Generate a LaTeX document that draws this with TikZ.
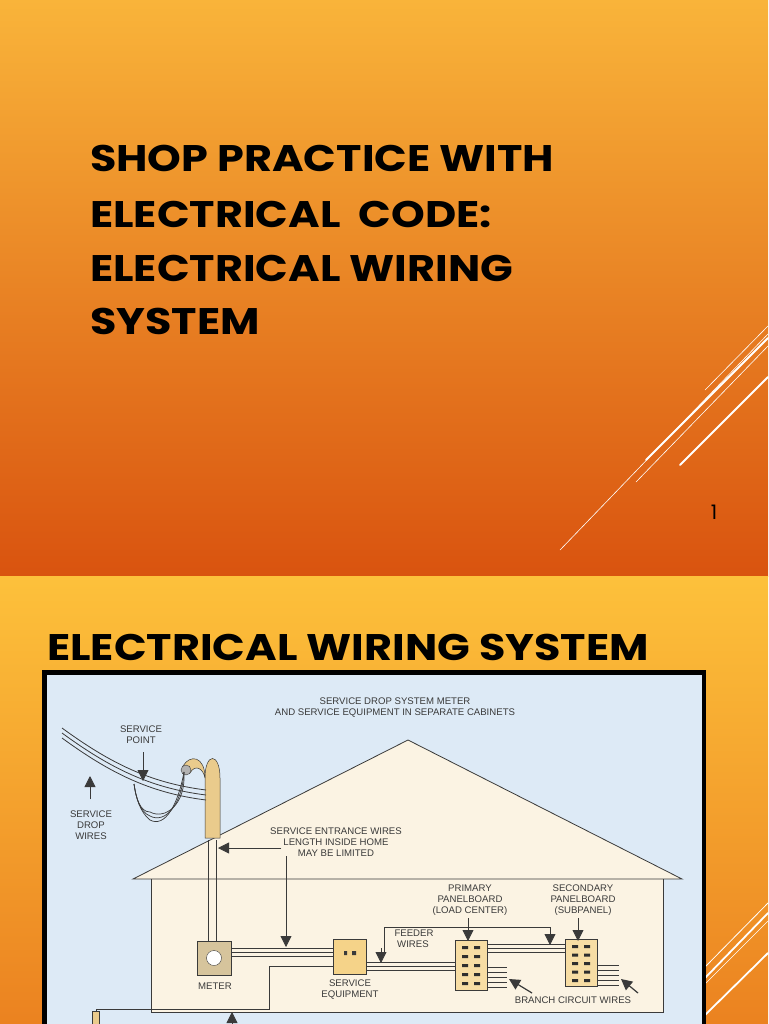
\documentclass[tikz,border=0pt]{standalone}
\usepackage{fontspec}
\setmainfont{Liberation Sans}
\newfontfamily\titlefont{Poppins Bold}
\newfontfamily\numfont{Poppins}
\usetikzlibrary{arrows.meta}
\definecolor{slidetop}{HTML}{F9B43A}
\definecolor{slidebot}{HTML}{D9530F}
\definecolor{slide2top}{HTML}{FDC13B}
\definecolor{slide2bot}{HTML}{EB8220}
\definecolor{sky}{HTML}{DDEAF6}
\definecolor{cream}{HTML}{FBF3E3}
\definecolor{conduit}{HTML}{EACB8C}
\definecolor{meterc}{HTML}{D6C49C}
\definecolor{equip}{HTML}{F5D389}
\definecolor{ink}{HTML}{3A3A3A}
\tikzset{
  lbl/.style={font=\fontsize{9.6}{11}\selectfont, text=ink, align=center, inner sep=0pt},
  wire/.style={draw=ink, line width=0.7pt},
  pt/.style={-{Triangle[length=11pt,width=11pt]}, draw=ink, fill=ink, line width=0.8pt},
  deco/.style={white, line cap=round},
  hd/.style={font=\titlefont\fontsize{37}{40}\selectfont, anchor=base west, inner sep=0pt}
}
\newcommand{\widetxt}[1]{\scalebox{1.16}[1]{#1}}
\begin{document}
\begin{tikzpicture}[x=1pt,y=-1pt]
\useasboundingbox (0,0) rectangle (768,1024);
% slide 1
\shade[top color=slidetop, bottom color=slidebot] (0,0) rectangle (768,576);
\draw[deco, line width=0.6pt] (560,550) -- (768,334);
\draw[deco, line width=2pt] (646,460) -- (768,338);
\draw[deco, line width=0.6pt] (636,482) -- (768,346);
\draw[deco, line width=2pt] (680,465) -- (768,377);
\draw[deco, line width=0.6pt] (705,390) -- (768,326);
\node[hd] (t1) at (90,172) {\widetxt{SHOP PRACTICE WITH}};
\node[hd] (t2) at (90,228) {\widetxt{ELECTRICAL\ \ CODE:}};
\node[hd] (t3) at (90,281) {\widetxt{ELECTRICAL WIRING}};
\node[hd] (t4) at (90,334) {\widetxt{SYSTEM}};
\node[font=\numfont\fontsize{20}{22}\selectfont] (pg) at (714,512) {1};
% slide 2
\shade[top color=slide2top, bottom color=slide2bot] (0,576) rectangle (768,1024);
\draw[deco, line width=0.8pt] (705,967) -- (768,903);
\draw[deco, line width=1.8pt] (705,978) -- (768,913);
\draw[deco, line width=0.6pt] (705,984) -- (768,921);
\draw[deco, line width=1.8pt] (705,1015) -- (768,953);
\node[hd] (h2) at (47,660) {\widetxt{ELECTRICAL WIRING SYSTEM}};
% frame
\fill[black] (42,670) rectangle (706,1024);
\fill[sky] (47,675) rectangle (702,1024);
\node[lbl] (cap) at (395,708) {SERVICE DROP SYSTEM METER\\AND SERVICE EQUIPMENT IN SEPARATE CABINETS};
% house
\fill[cream] (151,879) rectangle (663,1012);
\fill[cream] (133,879) -- (408,740) -- (682,879) -- cycle;
\draw[ink, line width=0.8pt] (133,879) -- (408,740) -- (682,879) -- cycle;
\draw[ink, line width=0.8pt] (151,879) -- (151,1012) -- (663,1012) -- (663,879);
% conduit with gooseneck
\fill[conduit, draw=ink, line width=0.5pt] (205,778) .. controls (205,752) and (220,752) .. (220,778) -- (220,838) -- (205,838) -- cycle;
\fill[conduit, draw=ink, line width=0.5pt] (205,778) .. controls (205,756) and (190,754) .. (183,766) -- (190,773) .. controls (195,764) and (203,768) .. (205,778);
\fill[gray!60, draw=ink, line width=0.4pt] (186,770) ellipse (5 and 5);
\draw[wire] (208,840) -- (208,942); \draw[wire] (216,840) -- (216,942);
% service drop wires
\foreach \d in {0,5,10}{\draw[ink, line width=0.8pt] (62,728+\d) .. controls (110,763+\d) and (150,783+\d) .. (206,790+\d);}
\foreach \d in {0,4,8}{\draw[ink, line width=0.7pt] (184,772) .. controls (178+\d,805) and (165,828-\d) .. (150,820-\d) .. controls (140,812) and (136,798) .. (134,784);}
% meter
\node[draw=ink, fill=meterc, minimum size=34pt, inner sep=0pt, line width=0.7pt] (meter) at (214,958) {};
\node[draw=ink, fill=white, circle, minimum size=15pt, inner sep=0pt] (dial) at (214,958) {};
\node[lbl] (meterl) at (215,986) {METER};
% service equipment
\node[draw=ink, fill=equip, minimum width=33pt, minimum height=35pt, inner sep=0pt, line width=0.7pt] (seq) at (350,957) {};
\fill[ink] (344,951) rectangle (347,955) (352,951) rectangle (356,955);
\node[lbl] (seql) at (350,990) {SERVICE\\EQUIPMENT};
\foreach \y in {948,952,956}{\draw[wire] (meter.east |- 0,\y) -- (seq.west |- 0,\y);}
% panels
\node[draw=ink, fill=equip!70!cream, minimum width=32pt, minimum height=50pt, inner sep=0pt, line width=0.7pt] (prim) at (471,965) {};
\node[draw=ink, fill=equip!70!cream, minimum width=32pt, minimum height=47pt, inner sep=0pt, line width=0.7pt] (sec) at (581,963) {};
\foreach \r in {0,...,4}{
  \fill[ink!80!black] (462,946+\r*9) rectangle (468,949+\r*9) (474,946+\r*9) rectangle (480,949+\r*9);
  \fill[ink!80!black] (572,945+\r*8.5) rectangle (578,948+\r*8.5) (584,945+\r*8.5) rectangle (590,948+\r*8.5);}
\foreach \y in {962,966,970}{\draw[wire] (seq.east |- 0,\y) -- (prim.west |- 0,\y);}
\foreach \y in {944,948,952}{\draw[wire] (prim.east |- 0,\y) -- (sec.west |- 0,\y);}
\foreach \i in {0,...,4}{\draw[wire] (487,967+\i*5) -- (507,967+\i*5); \draw[wire] (597,965+\i*5) -- (619,965+\i*5);}
% ground
\draw[ink, line width=0.8pt] (334,966) -- (269,966) -- (269,1009) -- (96,1009) -- (96,1024);
\fill[conduit, draw=ink, line width=0.4pt] (92,1011) rectangle (99,1024);
\coordinate (gnd) at (232,1026);
\draw[pt] (gnd) -- (232,1012);
% labels
\node[lbl] (sp) at (141,735) {SERVICE\\POINT};
\draw[pt] (143,752) -- (143,781);
\node[lbl] (sdw) at (91,825) {SERVICE\\DROP\\WIRES};
\draw[pt] (90,799) -- (90,776);
\node[lbl] (sew) at (336,842) {SERVICE ENTRANCE WIRES\\LENGTH INSIDE HOME\\MAY BE LIMITED};
\draw[pt] (281,848) -- (218,848);
\draw[pt] (286,856) -- (286,947);
\node[lbl, align=left] (feed) at (414,939) {FEEDER\\\ WIRES};
\draw[ink, line width=0.7pt] (384,952) -- (384,927) -- (550,927);
\draw[pt] (381,948) -- (381,963);
\draw[pt] (550,927) -- (550,945);
\node[lbl] (priml) at (470,900) {PRIMARY\\PANELBOARD\\(LOAD CENTER)};
\draw[pt] (468,918) -- (468,941);
\node[lbl] (secl) at (583,900) {SECONDARY\\PANELBOARD\\(SUBPANEL)};
\draw[pt] (578,918) -- (578,941);
\node[lbl] (bcw) at (573,1000) {BRANCH CIRCUIT WIRES};
\draw[pt, line width=1.2pt] (532,993) -- (509,979);
\draw[pt, line width=1.2pt] (638,993) -- (621,979);
\end{tikzpicture}
\end{document}
